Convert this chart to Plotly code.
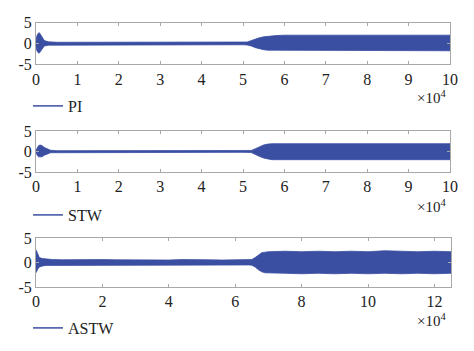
import plotly.graph_objects as go

# ---- data (envelopes of the dense oscillating signals) ----
# time in units of 1e4 samples
pi_t  = [0, 0.02, 0.05, 0.08, 0.12, 0.16, 0.2, 0.3, 0.5, 1, 2, 3, 4, 5, 5.1, 5.2, 5.3, 5.4, 5.5, 5.6, 5.8, 6, 7, 8, 9, 10]
pi_up = [0.6, 1.8, 2.4, 2.6, 2.0, 1.2, 0.7, 0.4, 0.3, 0.3, 0.3, 0.3, 0.3, 0.3, 0.35, 0.7, 1.1, 1.4, 1.6, 1.75, 1.9, 2.0, 2.0, 2.0, 2.0, 2.0]
pi_lo = [-0.6, -1.7, -2.2, -2.3, -1.8, -1.1, -0.6, -0.4, -0.3, -0.3, -0.3, -0.3, -0.3, -0.3, -0.35, -0.6, -1.0, -1.3, -1.5, -1.6, -1.7, -1.75, -1.75, -1.75, -1.75, -1.75]

stw_t  = [0, 0.03, 0.06, 0.1, 0.15, 0.2, 0.28, 0.35, 0.5, 1, 2, 3, 4, 5, 5.2, 5.3, 5.4, 5.5, 5.6, 5.7, 6, 7, 8, 9, 10]
stw_up = [0.3, 0.9, 1.4, 1.6, 1.4, 1.0, 0.6, 0.3, 0.2, 0.2, 0.2, 0.2, 0.2, 0.2, 0.25, 0.7, 1.2, 1.6, 1.8, 1.9, 1.9, 1.9, 1.9, 1.9, 1.9]
stw_lo = [-0.3, -0.9, -1.3, -1.4, -1.3, -0.9, -0.6, -0.3, -0.2, -0.2, -0.2, -0.2, -0.2, -0.2, -0.25, -0.7, -1.2, -1.6, -1.8, -2.0, -2.0, -2.0, -2.0, -2.0, -2.0]

astw_t  = [0, 0.02, 0.05, 0.1, 0.2, 0.3, 0.5, 0.8, 1.2, 1.6, 2.0, 2.4, 2.8, 3.2, 3.6, 4.0, 4.4, 4.8, 5.2, 5.6, 6.0, 6.4, 6.5, 6.6, 6.7, 6.8, 6.9, 7.0, 7.5, 8.0, 8.5, 9.0, 9.5, 10.0, 10.5, 11.0, 11.5, 12.0, 12.5]
astw_up = [2.6, 2.3, 1.6, 1.0, 0.8, 0.7, 0.6, 0.55, 0.6, 0.5, 0.6, 0.55, 0.5, 0.6, 0.55, 0.5, 0.6, 0.5, 0.55, 0.5, 0.5, 0.55, 0.6, 1.0, 1.6, 2.0, 2.1, 2.2, 2.3, 2.2, 2.3, 2.2, 2.3, 2.2, 2.4, 2.3, 2.2, 2.3, 2.2]
astw_lo = [-2.1, -1.9, -1.4, -0.9, -0.7, -0.6, -0.55, -0.5, -0.55, -0.5, -0.6, -0.5, -0.55, -0.5, -0.6, -0.5, -0.55, -0.5, -0.5, -0.55, -0.5, -0.5, -0.55, -0.9, -1.5, -1.9, -2.1, -2.2, -2.2, -2.3, -2.2, -2.3, -2.2, -2.3, -2.2, -2.3, -2.2, -2.3, -2.2]

names = ["PI", "STW", "ASTW"]
x_ranges = [[0, 10], [0, 10], [0, 12.5]]
x_dtick = [1, 1, 2]
y_ticks = [-5, 0, 5]

BLUE = "#3a4ea2"
GRID = "#a8a8a8"
FONT = "Liberation Serif"
TXT = "#222222"
W, H = 474, 351

def fx(px):
    return px / W

def fy(py):
    return 1 - py / H

# panel pixel boxes: (left, right, top, bottom)
boxes = [(36, 450, 22.7, 64.3), (36, 450, 131, 172), (36, 451, 238, 287)]
legend_y = [106, 215, 328]
x10_y = [97, 206, 320]

series = [(pi_t, pi_up, pi_lo), (stw_t, stw_up, stw_lo), (astw_t, astw_up, astw_lo)]

fig = go.Figure()
layout = dict(
    template="none",
    width=W, height=H, margin=dict(l=0, r=0, t=0, b=0, autoexpand=False),
    paper_bgcolor="white", plot_bgcolor="white",
    font=dict(family=FONT, size=15, color=TXT),
    annotations=[],
)

for i, (t, up, lo) in enumerate(series):
    k = "" if i == 0 else str(i + 1)
    lg = "legend" if i == 0 else "legend" + str(i + 1)
    fig.add_trace(go.Scatter(
        x=t + t[::-1], y=up + lo[::-1], fill="toself", mode="lines",
        line=dict(color=BLUE, width=0.8), fillcolor=BLUE,
        showlegend=False, xaxis="x" + k, yaxis="y" + k, hoverinfo="skip"))
    fig.add_trace(go.Scatter(
        x=[None], y=[None], mode="lines", name=names[i],
        line=dict(color=BLUE, width=1.5), xaxis="x" + k, yaxis="y" + k,
        legend=lg))
    l, r, tp, bt = boxes[i]
    layout["xaxis" + k] = dict(
        domain=[fx(l), fx(r)], range=x_ranges[i], dtick=x_dtick[i], tick0=0,
        anchor="y" + k, showgrid=False, zeroline=False, automargin=False,
        showline=True, linecolor=GRID, linewidth=1, mirror="ticks",
        ticks="inside", ticklen=3, tickcolor=GRID,
        tickfont=dict(family=FONT, size=16, color=TXT))
    layout["yaxis" + k] = dict(
        domain=[fy(bt), fy(tp)], range=[-5, 5], tickvals=y_ticks,
        ticktext=["-5", "0", "5"],
        anchor="x" + k, showgrid=False, zeroline=False, automargin=False,
        showline=True, linecolor=GRID, linewidth=1, mirror="ticks",
        ticks="inside", ticklen=3, tickcolor=GRID,
        tickfont=dict(family=FONT, size=16, color=TXT))
    layout[lg] = dict(
        x=fx(28), y=fy(legend_y[i]), xanchor="left", yanchor="middle",
        bgcolor="rgba(0,0,0,0)", font=dict(family=FONT, size=16, color=TXT),
        itemwidth=30)
    layout["annotations"].append(dict(
        text="×10<sup>4</sup>", xref="paper", yref="paper",
        x=fx(431), y=fy(x10_y[i]), xanchor="center", yanchor="middle",
        showarrow=False,
        font=dict(family=FONT, size=15, color=TXT)))

fig.update_layout(**layout)
fig.write_html("out.html")
